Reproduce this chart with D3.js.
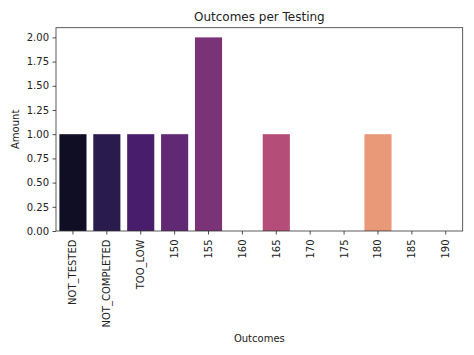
<!DOCTYPE html>
<html><head><meta charset="utf-8">
<script src="https://cdn.jsdelivr.net/npm/d3@7"></script>
<style>body{margin:0;background:#fff}svg{display:block}text{font-family:"DejaVu Sans",sans-serif;fill:#222}</style>
</head><body><svg id="c" width="474" height="355"></svg>
<script>
const categories = ["NOT_TESTED","NOT_COMPLETED","TOO_LOW","150","155","160","165","170","175","180","185","190"];
const amounts = [1,1,1,1,2,0,1,0,0,1,0,0];
const yTicks = [0,0.25,0.5,0.75,1.0,1.25,1.5,1.75,2.0];

const svg = d3.select("#c");
const L=56, R=462.7, T=27.7, B=231;
const x = d3.scaleBand().domain(categories).range([L,R]).paddingInner(0.2).paddingOuter(0.1);
const y = d3.scaleLinear().domain([0,2.1]).range([B,T]);

function color(i){
  const c = d3.hsl(d3.interpolateMagma((i+1)/(categories.length+1)));
  c.s *= 0.75;
  return c.formatHex();
}

svg.append("g").selectAll("rect").data(categories).join("rect")
  .attr("x", d=>x(d)).attr("width", x.bandwidth())
  .attr("y", (d,i)=>y(amounts[i])).attr("height",(d,i)=>B-y(amounts[i]))
  .attr("fill",(d,i)=>color(i));

const ya = svg.append("g").attr("transform",`translate(${L},0)`)
  .call(d3.axisLeft(y).tickValues(yTicks).tickFormat(d3.format(".2f")).tickSize(3.5).tickPadding(3.5));
const xa = svg.append("g").attr("transform",`translate(0,${B})`)
  .call(d3.axisBottom(x).tickSize(3.5).tickPadding(3.5));
[ya,xa].forEach(a=>{a.select(".domain").remove();a.selectAll("line").attr("stroke","#222").attr("stroke-width",0.8);a.selectAll("text").attr("font-size",10).attr("fill","#222");});
xa.selectAll("text").attr("transform","rotate(-90)").attr("text-anchor","end")
  .attr("x",-8.5).attr("y",0).attr("dy","0.35em");

svg.append("rect").attr("x",L).attr("y",T).attr("width",R-L).attr("height",B-T)
  .attr("fill","none").attr("stroke","#333").attr("stroke-width",0.8);

svg.append("text").attr("x",(L+R)/2).attr("y",21).attr("text-anchor","middle").attr("font-size",12).text("Outcomes per Testing");
svg.append("text").attr("x",(L+R)/2).attr("y",342).attr("text-anchor","middle").attr("font-size",10).text("Outcomes");
svg.append("text").attr("transform",`translate(19,${(T+B)/2}) rotate(-90)`).attr("text-anchor","middle").attr("font-size",10).text("Amount");
</script></body></html>
